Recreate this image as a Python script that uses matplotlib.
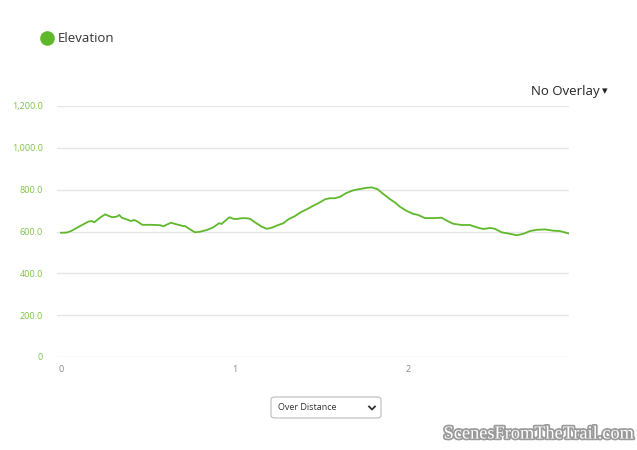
import matplotlib
matplotlib.use("Agg")
import matplotlib.pyplot as plt
import matplotlib.patheffects as pe
from matplotlib.patches import FancyBboxPatch
from matplotlib.lines import Line2D

plt.rcParams['font.family'] = ['Open Sans', 'DejaVu Sans']

# elevation profile (distance, elevation)
distance = [0.000, 0.033, 0.058, 0.110, 0.157, 0.177, 0.192, 0.225, 0.254, 0.273,
            0.296, 0.321, 0.336, 0.350, 0.379, 0.403, 0.422, 0.442, 0.469, 0.523,
            0.571, 0.590, 0.634, 0.667, 0.705, 0.715, 0.744, 0.772, 0.801, 0.840,
            0.878, 0.912, 0.926, 0.945, 0.970, 0.997, 1.016, 1.036, 1.061, 1.089,
            1.118, 1.157, 1.186, 1.214, 1.252, 1.281, 1.310, 1.349, 1.382, 1.416,
            1.454, 1.483, 1.522, 1.550, 1.579, 1.608, 1.647, 1.685, 1.723, 1.762,
            1.791, 1.823, 1.858, 1.896, 1.925, 1.954, 1.993, 2.031, 2.059, 2.098,
            2.146, 2.194, 2.223, 2.261, 2.310, 2.357, 2.396, 2.434, 2.473, 2.501,
            2.540, 2.588, 2.626, 2.665, 2.703, 2.742, 2.790, 2.837, 2.876, 2.924]
elevation = [594, 595, 602, 626, 647, 650, 644, 666, 682, 675,
             668, 671, 679, 666, 658, 650, 655, 647, 632, 632,
             630, 625, 642, 634, 626, 626, 610, 596, 599, 607,
             620, 640, 636, 650, 668, 660, 660, 663, 664, 661,
             644, 623, 613, 618, 631, 639, 658, 674, 692, 706,
             723, 735, 754, 759, 759, 766, 785, 797, 803, 809,
             811, 803, 779, 755, 739, 718, 698, 684, 679, 664,
             664, 666, 652, 637, 631, 631, 620, 612, 617, 613,
             596, 589, 582, 589, 602, 608, 610, 604, 602, 591]

y_ticks = [0, 200, 400, 600, 800, 1000, 1200]
y_labels = ["0", "200.0", "400.0", "600.0", "800.0", "1,000.0", "1,200.0"]
x_ticks = [0, 1, 2]

green = '#5fb82b'

fig = plt.figure(figsize=(6.37, 4.5), dpi=100)
ax = fig.add_axes([57 / 637, 1 - 357 / 450, (569 - 57) / 637, (357 - 106) / 450])

ax.plot(distance, elevation, color=green, lw=1.3, solid_joinstyle='round')
ax.set_xlim(-0.023, 2.928)
ax.set_ylim(0, 1200)

for s in ax.spines.values():
    s.set_visible(False)
ax.set_yticks(y_ticks)
ax.set_yticklabels(y_labels)
ax.set_xticks(x_ticks)
ax.tick_params(axis='y', length=0, pad=10, labelsize=6.5, labelcolor='#7cc24a')
ax.tick_params(axis='x', length=0, pad=6, labelsize=6.5, labelcolor='#888888')
ax.grid(axis='y', color='#e6e6e6', lw=1)
ax.set_axisbelow(True)

# legend
fig.add_artist(Line2D([47 / 637], [1 - 38 / 450], transform=fig.transFigure,
                      marker='o', ms=9.5, color=green, ls=''))
fig.text(58 / 637, 1 - 38 / 450, "Elevation", fontsize=9.5, color='#333333', va='center')

# overlay selector
fig.text(600 / 637, 1 - 91 / 450, "No Overlay", fontsize=9.5, color='#222222',
         va='center', ha='right')
fig.text(608 / 637, 1 - 92 / 450, "\u25be", fontsize=8, color='#222222',
         va='center', ha='right')

# dropdown
box = FancyBboxPatch((271 / 637, 1 - 418 / 450), 110 / 637, 21 / 450,
                     boxstyle="round,pad=0,rounding_size=0.006",
                     transform=fig.transFigure, facecolor='white',
                     edgecolor='#bbbbbb', lw=0.8, figure=fig)
fig.patches.append(box)
fig.text(278 / 637, 1 - 408 / 450, "Over Distance", fontsize=6.5, color='#333333', va='center')
fig.add_artist(Line2D([369 / 637, 372 / 637, 375 / 637],
                      [1 - 406.5 / 450, 1 - 409.5 / 450, 1 - 406.5 / 450],
                      transform=fig.transFigure, color='#333333', lw=1.3))

# watermark
fig.text(635 / 637, 1 - 434 / 450, "ScenesFromTheTrail.com", fontsize=13.2,
         family='Liberation Serif', fontstretch='condensed', color='white',
         ha='right', va='center',
         path_effects=[pe.withStroke(linewidth=2.5, foreground='#9a9a9a')])

fig.savefig("out.png", dpi=100)
